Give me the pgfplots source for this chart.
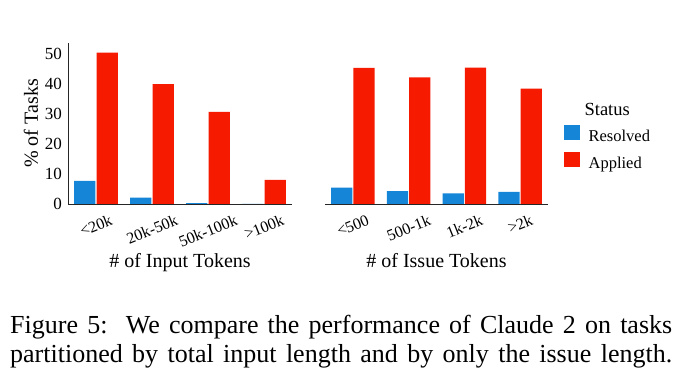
\documentclass[border=0pt]{standalone}
\usepackage{fontspec}
\setmainfont{Liberation Serif}
\usepackage{graphicx}
\usepackage{pgfplots}
\pgfplotsset{compat=1.18}
\definecolor{resC}{HTML}{1585D8}
\definecolor{appC}{HTML}{F51A00}
\pgfplotsset{
  common/.style={
    scale only axis, height=161pt,
    ymin=0, ymax=53.5, xmin=-0.5, xmax=3.5,
    major tick length=0pt,
    xtick={0,1,2,3},
    ytick={0,10,20,30,40,50},
    bar width=0.38,
    xticklabel style={anchor=north, inner sep=0pt, yshift=-10pt, font=\fontsize{16}{16}\selectfont},
    yticklabel style={inner sep=0pt, xshift=-6pt, font=\fontsize{17}{17}\selectfont},
    /pgf/number format/assume math mode=true,
    x label style={at={(axis description cs:0.5,-0.3975)}, anchor=base, font=\fontsize{20}{20}\selectfont},
  },
  lines/.style={
    axis line style={-, line width=0.9pt, color=black!85},
    every inner x axis line/.append style={-},
    every inner y axis line/.append style={-},
    every outer x axis line/.append style={-},
    every outer y axis line/.append style={-},
  },
}
\begin{document}
\begin{tikzpicture}[x=1pt,y=1pt]
\useasboundingbox (0,0) rectangle (690,382);
% left axis
\begin{axis}[common,
  at={(68pt,178pt)}, anchor=south west, width=224pt,
  axis x line=bottom, axis y line=left, lines,
  xticklabels={\rotatebox{22}{<20k},\rotatebox{22}{20k-50k},\rotatebox{22}{50k-100k},\rotatebox{22}{>100k}},
  xlabel={\# of Input Tokens},
  ylabel={\% of Tasks},
  y label style={at={(axis description cs:-0.134,0.5)}, anchor=base, font=\fontsize{20}{20}\selectfont},
]
\addplot[ybar, fill=resC, draw=none, bar shift=-0.2] coordinates {(0,7.7) (1,2.1) (2,0.3) (3,0)};
\addplot[ybar, fill=appC, draw=none, bar shift=0.2] coordinates {(0,50.3) (1,39.8) (2,30.6) (3,8.0)};
\end{axis}
% right axis
\begin{axis}[common,
  at={(325pt,178pt)}, anchor=south west, width=223pt,
  axis x line=bottom, axis y line=none, lines,
  xticklabels={\rotatebox{22}{<500},\rotatebox{22}{500-1k},\rotatebox{22}{1k-2k},\rotatebox{22}{>2k}},
  xlabel={\# of Issue Tokens},
  legend cell align=left,
  legend style={draw=none, fill=none, inner sep=0pt,
    at={(axis description cs:1.0717,0.6335)}, anchor=north west,
    row sep=5pt,
    nodes={inner sep=1pt, text height=12pt, text depth=4pt, font=\fontsize{16.5}{16.5}\selectfont},
    /tikz/every odd column/.append style={column sep=8pt}},
]
\addplot[ybar, fill=resC, draw=none, bar shift=-0.2, forget plot] coordinates {(0,5.4) (1,4.3) (2,3.5) (3,4.0)};
\addplot[ybar, fill=appC, draw=none, bar shift=0.2, forget plot] coordinates {(0,45.2) (1,42.1) (2,45.3) (3,38.3)};
\addlegendimage{empty legend}
\addlegendentry{\hspace*{-4pt}\fontsize{18.5}{18.5}\selectfont Status}
\addlegendimage{legend image code/.code={\fill[resC] (0pt,-1.5pt) rectangle (15pt,12.5pt);}}
\addlegendentry{Resolved}
\addlegendimage{legend image code/.code={\fill[appC] (0pt,-1.5pt) rectangle (15pt,12.5pt);}}
\addlegendentry{Applied}
\end{axis}
% caption
\node[anchor=base west, inner sep=0pt, font=\fontsize{26}{29}\selectfont] at (10,48)
  {\makebox[662pt][s]{Figure 5:\ \ We compare the performance of Claude 2 on tasks}};
\node[anchor=base west, inner sep=0pt, font=\fontsize{26}{29}\selectfont] at (10,19)
  {\makebox[662pt][s]{partitioned by total input length and by only the issue length.}};
\end{tikzpicture}
\end{document}
